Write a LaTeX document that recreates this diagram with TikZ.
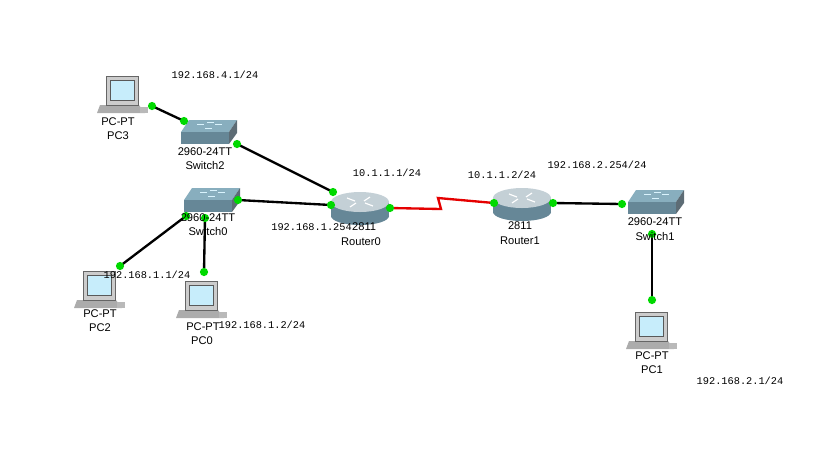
\documentclass[tikz,border=0pt]{standalone}
\usepackage{fontspec}
\setmainfont{Liberation Sans}
\newfontfamily\ipfont{Liberation Mono}
\begin{document}
\begin{tikzpicture}[x=0.03cm,y=-0.03cm,
  lbl/.style={font=\fontsize{9.5}{11}\selectfont,inner sep=0pt},
  ip/.style={font=\ipfont\fontsize{8.8}{10}\selectfont,inner sep=0pt},
  link/.style={line width=2pt,black},
  dot/.style={circle,fill=green!85!black,inner sep=0pt,minimum size=7pt},
  pcpic/.pic={
    \fill[gray!65] (-22,8) -- (17,8) -- (23,16) -- (-25,16) -- cycle;
    \fill[gray!40,draw=gray!80!black,line width=0.4pt] (-16,-21) rectangle (16,8);
    \fill[cyan!22!white,draw=gray!70!black] (-12,-17) rectangle (12,3);
    \fill[gray!55] (18,10) rectangle (26,16);
  },
  swpic/.pic={
    \fill[cyan!35!gray!85!white] (-24,0) -- (-16,-12) -- (32,-12) -- (24,0) -- cycle;
    \fill[cyan!45!gray!75!black] (-24,0) rectangle (24,12);
    \fill[cyan!40!gray!55!black] (24,0) -- (32,-12) -- (32,1) -- (24,12) -- cycle;
    \draw[white!85!cyan,line width=0.6pt] (-8,-8)--(-1,-8) (10,-8)--(17,-8) (2,-10)--(9,-10) (0,-4)--(7,-4);
  },
  rtpic/.pic={
    \fill[cyan!45!gray!75!black] (-29,0) rectangle (29,14);
    \fill[cyan!45!gray!75!black] (0,14) ellipse (29 and 9);
    \fill[cyan!20!gray!45!white] (0,0) ellipse (29 and 10);
    \draw[white,line width=1pt] (-13,-4)--(-5,-1) (13,4)--(5,1) (-10,5)--(-4,1) (10,-5)--(4,-1);
  }]
\useasboundingbox (0,0) rectangle (839,462);
% link endpoints
\coordinate (a1) at (152,106); \coordinate (a2) at (184,121);
\coordinate (b1) at (237,144); \coordinate (b2) at (333,192);
\coordinate (c1) at (238,200); \coordinate (c2) at (331,205);
\coordinate (d1) at (390,208); \coordinate (d2) at (494,203);
\coordinate (e1) at (553,203); \coordinate (e2) at (622,204);
\coordinate (f1) at (186,216); \coordinate (f2) at (120,266);
\coordinate (g1) at (205,218); \coordinate (g2) at (204,272);
\coordinate (h1) at (652,234); \coordinate (h2) at (652,300);
\draw[link] (a1) -- (a2);
\draw[link] (b1) -- (b2);
\draw[link] (c1) -- (c2);
\draw[line width=2pt,red!90!black] (d1) -- (441,209) -- (438,198) -- (d2);
\draw[link] (e1) -- (e2);
\draw[link] (f1) -- (f2);
\draw[link] (g1) -- (g2);
\draw[link] (h1) -- (h2);
% devices
\pic at (122,97) {pcpic}; \node[coordinate] (pc3) at (122,97) {};
\pic at (205,132) {swpic}; \node[coordinate] (sw2) at (205,132) {};
\pic at (208,200) {swpic}; \node[coordinate] (sw0) at (208,200) {};
\pic at (360,202) {rtpic}; \node[coordinate] (r0) at (360,202) {};
\pic at (522,198) {rtpic}; \node[coordinate] (r1) at (522,198) {};
\pic at (652,202) {swpic}; \node[coordinate] (sw1) at (652,202) {};
\pic at (99,292) {pcpic}; \node[coordinate] (pc2) at (99,292) {};
\pic at (201,302) {pcpic}; \node[coordinate] (pc0) at (201,302) {};
\pic at (651,333) {pcpic}; \node[coordinate] (pc1) at (651,333) {};
\foreach \p in {a1,a2,b1,b2,c1,c2,d1,d2,e1,e2,f1,f2,g1,g2,h1,h2} \node[dot] at (\p) {};
% device labels
\node[lbl] (l1) at (118,122) {PC-PT}; \node[lbl] (l2) at (118,136) {PC3};
\node[lbl] (l3) at (205,152) {2960-24TT}; \node[lbl] (l4) at (205,166) {Switch2};
\node[lbl] (l5) at (208,218) {2960-24TT}; \node[lbl] (l6) at (208,232) {Switch0};
\node[lbl,anchor=west] (l7) at (352,227) {2811}; \node[lbl] (l8) at (361,242) {Router0};
\node[lbl] (l9) at (520,226) {2811}; \node[lbl] (l10) at (520,241) {Router1};
\node[lbl] (l11) at (655,222) {2960-24TT}; \node[lbl] (l12) at (655,237) {Switch1};
\node[lbl] (l13) at (100,314) {PC-PT}; \node[lbl] (l14) at (100,328) {PC2};
\node[lbl] (l15) at (203,327) {PC-PT}; \node[lbl] (l16) at (202,341) {PC0};
\node[lbl] (l17) at (652,356) {PC-PT}; \node[lbl] (l18) at (652,370) {PC1};
% ip labels
\node[ip] (i1) at (215,75) {192.168.4.1/24};
\node[ip] (i2) at (387,173) {10.1.1.1/24};
\node[ip] (i3) at (502,175) {10.1.1.2/24};
\node[ip] (i4) at (597,165) {192.168.2.254/24};
\node[ip,anchor=east] (i5) at (352,227) {192.168.1.254};
\node[ip] (i6) at (147,275) {192.168.1.1/24};
\node[ip] (i7) at (262,325) {192.168.1.2/24};
\node[ip] (i8) at (740,381) {192.168.2.1/24};
\end{tikzpicture}
\end{document}
